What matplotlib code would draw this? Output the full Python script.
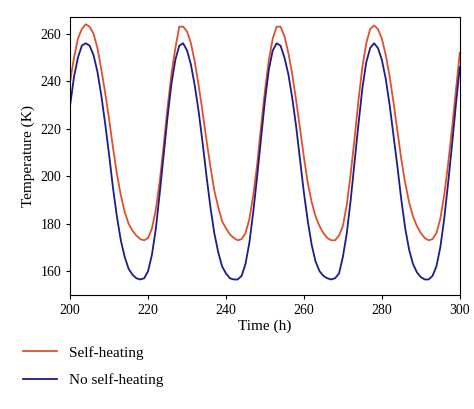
import numpy as np
import matplotlib.pyplot as plt

plt.rcParams['font.family'] = ['Liberation Serif']

time_h = np.arange(200, 301, 1)

self_heating = [
    240, 250, 258, 262, 264, 263, 260, 254, 245, 235,
    224, 212, 201, 192, 185, 180, 177, 175, 173.5, 173,
    174, 178, 186, 198, 213, 229, 243, 254, 263, 263,
    261, 256, 248, 238, 227, 215, 204, 194, 187, 181,
    178, 175.5, 174, 173, 173.5, 176, 182, 192, 205, 221,
    236, 249, 258, 263, 263, 259, 252, 243, 232, 220,
    208, 197, 189, 183, 179, 176, 174, 173, 173, 175,
    179, 188, 201, 216, 232, 246, 256, 262, 263.5, 262,
    258, 251, 242, 231, 219, 207, 197, 189, 183, 179,
    176, 174, 173, 173.5, 176, 182, 192, 205, 220, 236,
    252,
]

no_self_heating = [
    230, 242, 250, 255, 256, 255, 251, 244, 234, 222,
    209, 195, 183, 173, 166, 161, 158.5, 157, 156.5, 157,
    160, 167, 178, 193, 209, 225, 239, 249, 255, 256,
    253, 247, 238, 227, 214, 200, 187, 176, 168, 162,
    159, 157, 156.5, 156.5, 158, 163, 172, 185, 200, 216,
    232, 245, 253, 256, 255, 250, 243, 233, 221, 207,
    193, 181, 171, 164, 160, 158, 157, 156.5, 157, 159,
    166, 176, 190, 206, 222, 237, 248, 254, 256, 254,
    249, 241, 230, 217, 204, 190, 178, 169, 163, 159.5,
    157.5, 156.5, 156.5, 158, 162, 170, 182, 197, 213, 230,
    246,
]

fig = plt.figure(figsize=(4.74, 4.09), dpi=100)
ax = fig.add_axes([0.148, 0.279, 0.822, 0.679])
ax.plot(time_h, self_heating, color='#E0502A', lw=1.3, label='Self-heating')
ax.plot(time_h, no_self_heating, color='#1C1C8A', lw=1.3, label='No self-heating')
ax.set_xlim(200, 300)
ax.set_ylim(150, 267)
ax.set_xticks(range(200, 301, 20))
ax.set_yticks(range(160, 261, 20))
ax.tick_params(labelsize=10, length=3)
ax.set_xlabel('Time (h)', fontsize=11, labelpad=2)
ax.set_ylabel('Temperature (K)', fontsize=11)

fig.legend(loc='lower left', bbox_to_anchor=(0.02, 0.02), frameon=False,
           fontsize=11, handlelength=2.2, labelspacing=0.9)
fig.savefig('out.png', dpi=100)
